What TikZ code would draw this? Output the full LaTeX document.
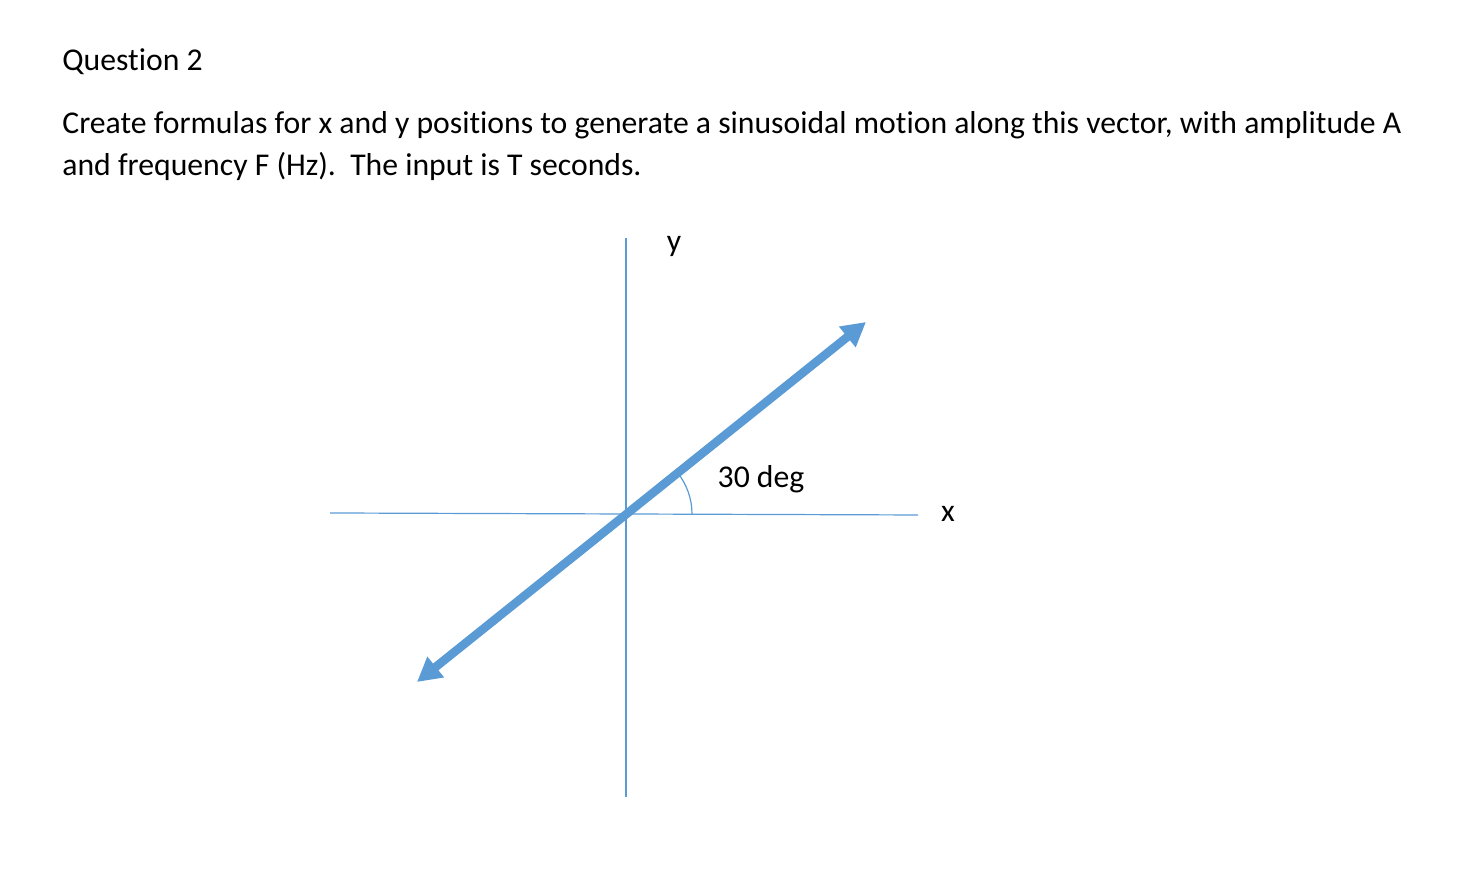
\documentclass[tikz,border=0pt]{standalone}
\usepackage{fontspec}
\setmainfont{Carlito}[Ligatures=NoCommon]
\usetikzlibrary{arrows.meta,angles}
\definecolor{axisblue}{HTML}{5B9BD5}
\tikzset{
	txt/.style={inner sep=0pt, anchor=base west, font=\fontsize{15.85}{21}\selectfont},
	lbl/.style={inner sep=0pt, anchor=base, font=\fontsize{15.85}{21}\selectfont},
	axis/.style={draw=axisblue, line width=0.6pt},
	vec/.style={draw=axisblue, line width=4.3pt, {Triangle[length=12pt,width=12.5pt]}-{Triangle[length=12pt,width=12.5pt]}}
}
\begin{document}
\begin{tikzpicture}[x=0.5pt,y=0.5pt]

	\useasboundingbox (0,0) rectangle (1463,886);

	% question text
	\node[txt] (head) at (62,815) {Question 2};
	\node[txt] (line1) at (62,752) {Create formulas for x and y positions to generate a sinusoidal motion along this vector, with amplitude A};
	\node[txt] (line2) at (62,710) {and frequency F (Hz).\ \ The input is T seconds.};

	% points
	\coordinate (O) at (626,372);
	\coordinate (xl) at (330,373);
	\coordinate (xr) at (918,371);
	\coordinate (yt) at (626,648);
	\coordinate (yb) at (626,89);
	\coordinate (tail) at (417,204);
	\coordinate (tip) at (866,564);

	% axes
	\draw[axis] (xl) -- (xr);
	\draw[axis] (yb) -- (yt);

	% vector
	\draw[vec] (tail) -- (tip);

	% angle
	\pic[axis, angle radius=33pt] {angle = xr--O--tip};

	% labels
	\node[lbl] (ylab) at (674,634) {y};
	\node[lbl] (xlab) at (948,364) {x};
	\node[lbl] (ang) at (761,398) {30 deg};

\end{tikzpicture}
\end{document}
